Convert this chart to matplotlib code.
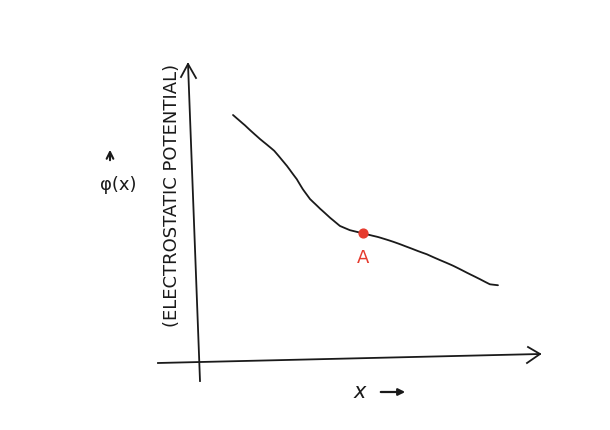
import numpy as np
import matplotlib.pyplot as plt

# curve (x, phi) in picture units, origin at axes crossing
x_vals = [33, 45, 60, 74, 87, 97, 103, 110, 120, 130, 140, 150, 163, 178, 193, 210, 227, 240, 253, 267, 280, 290, 298]
phi_vals = [246, 236, 222, 210, 195, 182, 172, 162, 152, 143, 135, 131, 128, 124, 119, 113, 107, 101, 95, 88, 82, 77, 76]
point_a = (163, 128)
point_label = "A"
y_label = "(ELECTROSTATIC POTENTIAL)"
phi_label = "φ(x)"
x_label = "x"

plt.rcParams['font.family'] = ['DejaVu Sans']
fig = plt.figure(figsize=(6.1, 4.31), dpi=100)
ax = fig.add_axes([0, 0, 1, 1])
ax.set_xlim(-200, 410)
ax.set_ylim(-69, 362)
ax.axis("off")

ink = "#1a1a1a"
with plt.rc_context({'path.sketch': (0.3, 80, 2)}):
    ax.plot(x_vals, phi_vals, color=ink, lw=1.3, solid_capstyle="round",
            solid_joinstyle="round")

# hand-drawn axes
ax.plot([-42, 340], [-2, 7], color=ink, lw=1.3)
ax.plot([0, -12], [-20, 297], color=ink, lw=1.3)
ax.plot([328, 340, 327], [14, 7, -2], color=ink, lw=1.3)
ax.plot([-19, -12, -4], [284, 297, 283], color=ink, lw=1.3)

red = "#e63b2e"
ax.scatter([point_a[0]], [point_a[1]], s=40, color=red, zorder=3)
ax.text(point_a[0], point_a[1] - 24, point_label, color=red, fontsize=13,
        ha="center", va="center")

ax.text(-28, 167, y_label, rotation=90, fontsize=13, ha="center", va="center",
        color=ink)
ax.text(-82, 177, phi_label, fontsize=13, ha="center", va="center", color=ink)
ax.annotate("", xy=(-90, 214), xytext=(-90, 198),
            arrowprops=dict(arrowstyle="->", color=ink, lw=1.5, mutation_scale=12))
ax.text(160, -30, x_label, fontsize=15, ha="center", va="center", color=ink,
        style="italic")
ax.annotate("", xy=(208, -31), xytext=(178, -31),
            arrowprops=dict(arrowstyle="-|>", color=ink, lw=1.6))

fig.savefig("out.png", dpi=100, facecolor="white")
